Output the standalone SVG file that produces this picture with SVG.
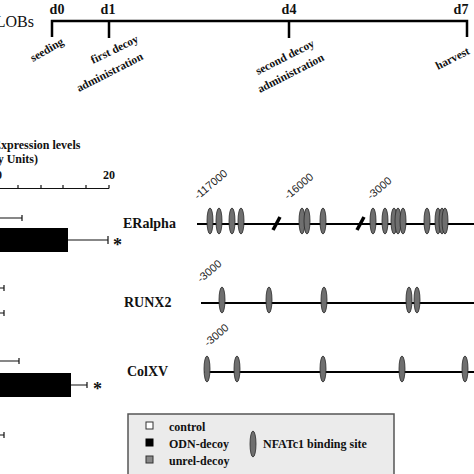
<svg xmlns="http://www.w3.org/2000/svg" width="474" height="474" viewBox="0 0 474 474">
<defs>
<style>
.tl{stroke:#000;stroke-width:2.5;fill:none}
.day{font-family:"Liberation Serif",serif;font-weight:bold;font-size:14px;fill:#111;text-anchor:middle}
.ev{font-family:"Liberation Serif",serif;font-weight:bold;font-size:11.5px;fill:#111}
.ax{stroke:#111;stroke-width:1.2;fill:none}
.axt{font-family:"Liberation Serif",serif;font-weight:bold;font-size:12px;fill:#111}
.wh{stroke:#111;stroke-width:1.2;fill:none}
.gene{font-family:"Liberation Serif",serif;font-weight:bold;font-size:14px;fill:#111}
.gl{stroke:#000;stroke-width:2;fill:none}
.site{fill:#6f6f6f;stroke:#2a2a2a;stroke-width:0.8}
.pos{font-family:"Liberation Sans",sans-serif;font-size:11px;fill:#222}
.star{font-family:"Liberation Serif",serif;font-weight:bold;font-size:18px;fill:#111}
.lg{font-family:"Liberation Serif",serif;font-weight:bold;font-size:12px;fill:#111}
</style>
<ellipse id="s" class="site" cx="0" cy="0" rx="3" ry="13"/>
</defs>

<g id="timeline">
<path class="tl" d="M52,37 V21 H467 V37 M109,21 V38 M289,21 V38"/>
<text x="34" y="27" font-family="Liberation Serif, serif" font-size="16" fill="#111" text-anchor="end">LOBs</text>
<text class="day" x="57" y="14">d0</text>
<text class="day" x="108" y="14">d1</text>
<text class="day" x="289" y="14">d4</text>
<text class="day" x="461" y="14">d7</text>
<text class="ev" transform="translate(33,62) rotate(-30)">seeding</text>
<text class="ev" transform="translate(93,64) rotate(-26)">first decoy</text>
<text class="ev" transform="translate(79,92) rotate(-27)">administration</text>
<text class="ev" transform="translate(258,75) rotate(-27)">second decoy</text>
<text class="ev" transform="translate(260,93) rotate(-27)">administration</text>
<text class="ev" transform="translate(438,70) rotate(-27)">harvest</text>
</g>

<g id="chart">
<text class="axt" x="-7" y="149">Expression levels</text>
<text class="axt" x="38" y="163" text-anchor="end">(Arbitrary Units)</text>
<text class="axt" x="-1" y="179" text-anchor="middle">0</text>
<text class="axt" x="109" y="179" text-anchor="middle">20</text>
<path class="ax" d="M0,188.5 H109 M18,185 V188.5 M41,185 V188.5 M63,185 V188.5 M86,185 V188.5 M109,185 V188.5"/>
<path class="wh" d="M0,218 H22 M22,215 V221"/>
<rect x="-10" y="228" width="78" height="24" fill="#000"/>
<path class="wh" d="M68,240 H108 M108,236 V244"/>
<text class="star" x="113" y="250.5">*</text>
<path class="wh" d="M0,288 H4 M4,285 V291"/>
<path class="wh" d="M0,313 H4 M4,310 V316"/>
<path class="wh" d="M0,361 H19 M19,358 V364"/>
<rect x="-10" y="373" width="81" height="24" fill="#000"/>
<path class="wh" d="M71,385 H87 M87,382 V388"/>
<text class="star" x="93" y="395">*</text>
<path class="wh" d="M0,435 H4 M4,432 V438"/>
</g>

<g id="gene-ERalpha">
<text class="gene" x="123" y="228">ERalpha</text>
<path class="gl" d="M197,224 H474"/>
<path d="M273,230 L280,217" stroke="#000" stroke-width="3.5"/>
<path d="M357,230 L364,217" stroke="#000" stroke-width="3.5"/>
<use href="#s" x="210" y="221"/><use href="#s" x="219" y="221"/><use href="#s" x="232" y="221"/><use href="#s" x="241" y="221"/>
<use href="#s" x="302" y="221"/><use href="#s" x="307" y="221"/><use href="#s" x="323" y="221"/>
<use href="#s" x="373" y="221"/><use href="#s" x="385" y="221"/><use href="#s" x="394" y="221"/><use href="#s" x="398" y="221"/><use href="#s" x="403" y="221"/>
<use href="#s" x="427" y="221"/><use href="#s" x="438" y="221"/><use href="#s" x="442" y="221"/><use href="#s" x="445" y="221"/>
<text class="pos" transform="translate(198,200) rotate(-40)">-117000</text>
<text class="pos" transform="translate(288,200) rotate(-40)">-16000</text>
<text class="pos" transform="translate(371,200) rotate(-40)">-3000</text>
</g>

<g id="gene-RUNX2">
<text class="gene" x="124" y="307">RUNX2</text>
<path class="gl" d="M201,303 H474"/>
<use href="#s" x="222" y="300"/><use href="#s" x="269" y="300"/><use href="#s" x="324" y="300"/><use href="#s" x="409" y="300"/><use href="#s" x="417" y="300"/>
<text class="pos" transform="translate(201,283) rotate(-40)">-3000</text>
</g>

<g id="gene-ColXV">
<text class="gene" x="127" y="376">ColXV</text>
<path class="gl" d="M204,372 H474"/>
<use href="#s" x="207" y="369"/><use href="#s" x="237" y="369"/><use href="#s" x="323" y="369"/><use href="#s" x="402" y="369"/><use href="#s" x="465" y="369"/>
<text class="pos" transform="translate(208,347) rotate(-40)">-3000</text>
</g>

<g id="legend">
<rect x="128" y="414" width="266" height="70" fill="#ebebeb" stroke="#555" stroke-width="1.5"/>
<rect x="146" y="422" width="7" height="7" fill="#fff" stroke="#333" stroke-width="1"/>
<rect x="146" y="439" width="7" height="7" fill="#000" stroke="#000" stroke-width="1"/>
<rect x="146" y="456" width="7" height="7" fill="#888" stroke="#333" stroke-width="1"/>
<text class="lg" x="169" y="431">control</text>
<text class="lg" x="169" y="448">ODN-decoy</text>
<text class="lg" x="169" y="465">unrel-decoy</text>
<use href="#s" x="253" y="444"/>
<text class="lg" x="263" y="448" font-size="11.5">NFATc1 binding site</text>
</g>
</svg>
